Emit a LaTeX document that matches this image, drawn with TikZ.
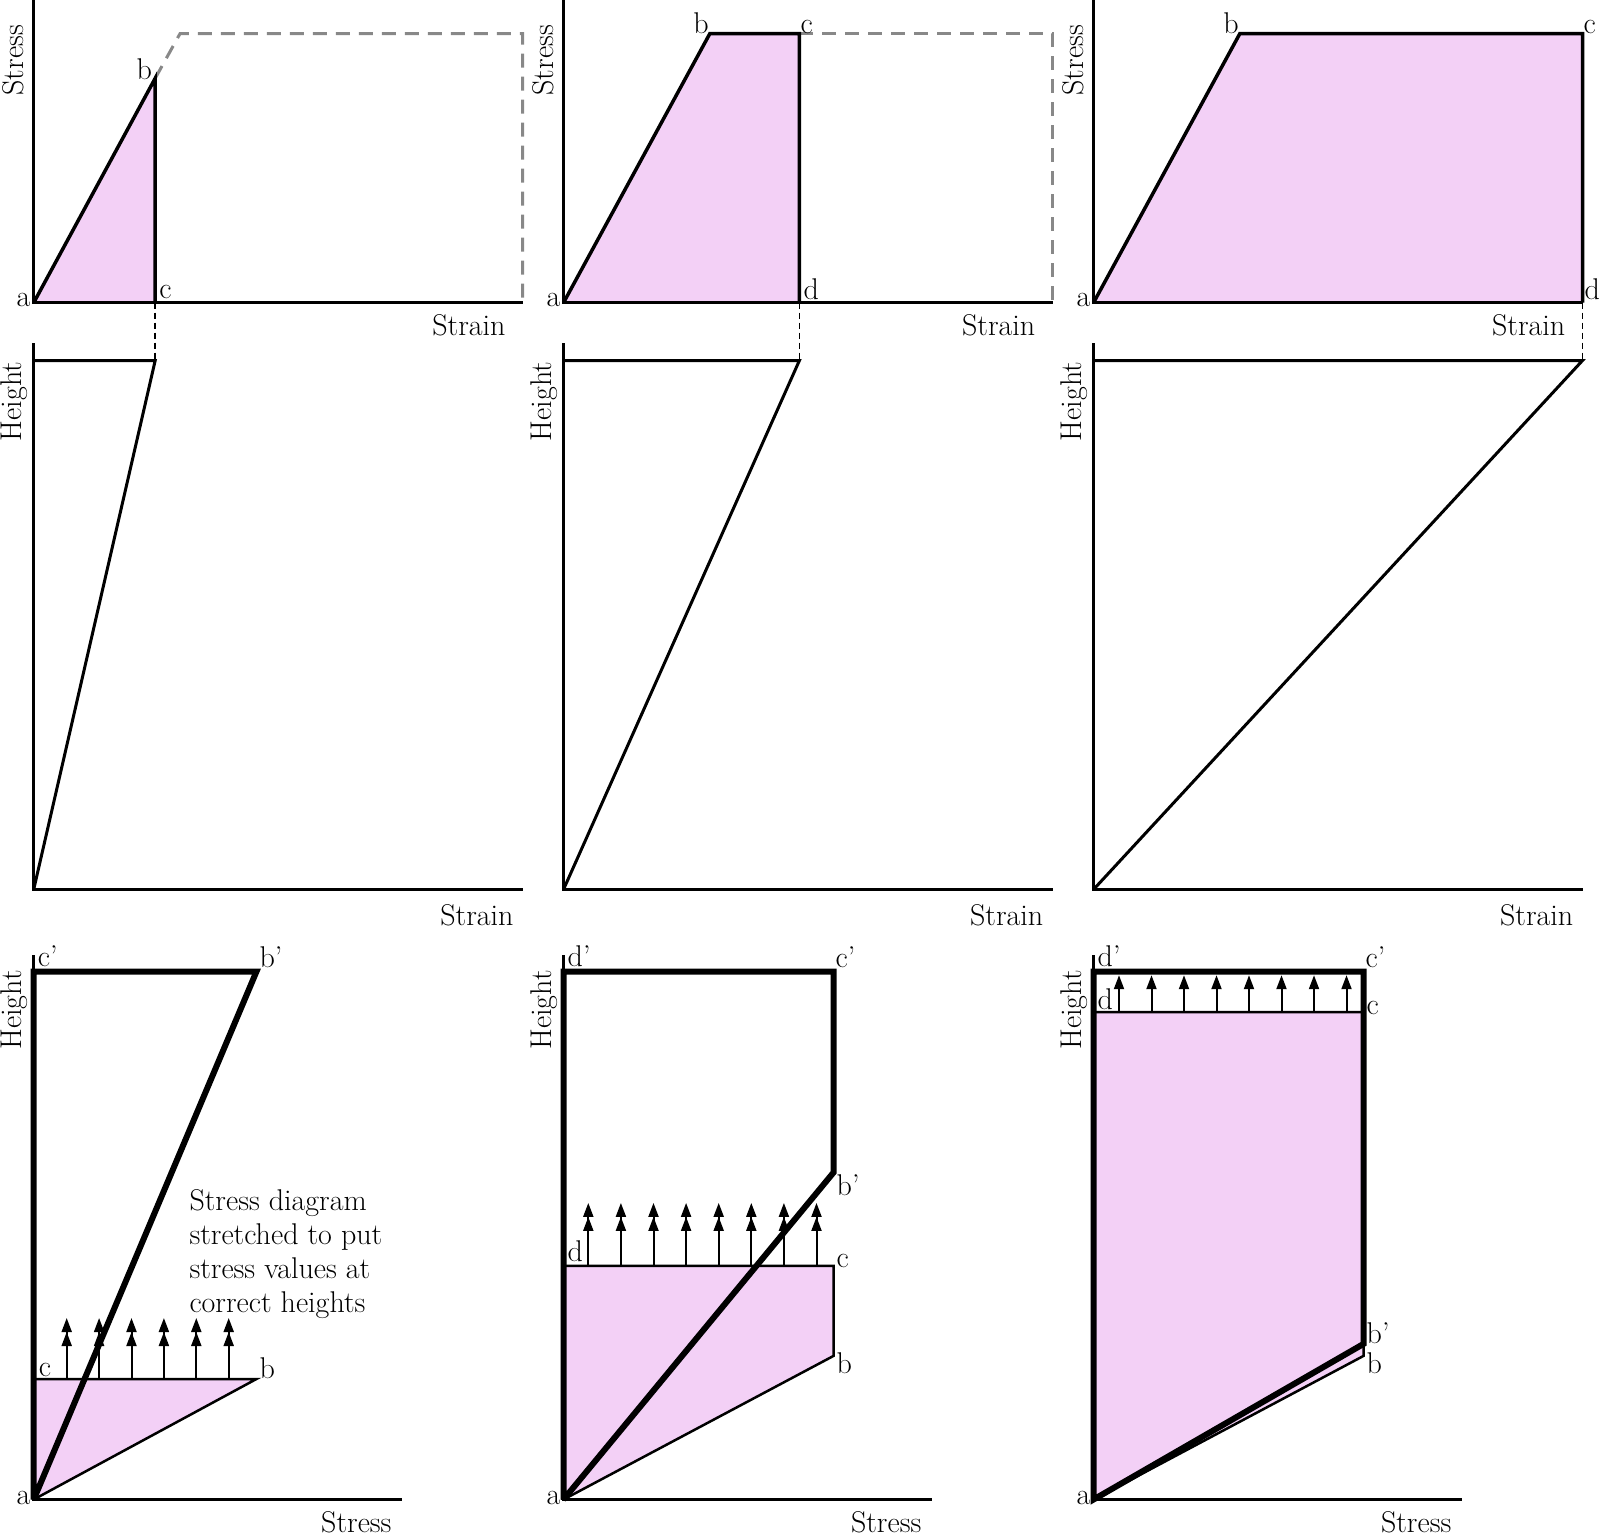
\documentclass[tikz,border=0pt]{standalone}
\usepackage{fontspec}
\usetikzlibrary{arrows.meta}
\definecolor{pinkfill}{RGB}{243,208,246}
\definecolor{dashgray}{RGB}{136,136,136}
\newcommand\lblfont{\fontsize{30}{33.9}\selectfont}
\begin{document}
\begin{tikzpicture}[x=1pt,y=-1pt,
  axis/.style={line width=3pt},
  curve/.style={line width=3.5pt, line join=miter},
  heavy/.style={line width=6pt, line join=miter, miter limit=2.5},
  thinline/.style={line width=2.5pt},
  yielddash/.style={dashgray, line width=3pt, dash pattern=on 14pt off 9pt},
  linkdash/.style={line width=1.5pt, dash pattern=on 6pt off 4pt},
  lbl/.style={inner sep=0pt, font=\lblfont},
  rotlbl/.style={inner sep=0pt, rotate=90, anchor=east, font=\lblfont},
  uparr/.style={line width=2pt, -{Triangle[length=14pt,width=10pt]}},
  dblarr/.style={line width=2pt, -{Triangle[length=14pt,width=10pt]Triangle[length=14pt,width=10pt]}},
]
\useasboundingbox (0,0) rectangle (1600,1535);

% ================= ROW 1 : stress-strain =================
% panel 1
\coordinate (Y11) at (33.7,0);
\coordinate (A11) at (33.7,302.7);
\coordinate (B11) at (155.2,78.3);
\coordinate (C11) at (155.2,302.7);
\coordinate (K11) at (180.1,33.5);
\coordinate (T11) at (522.7,33.5);
\coordinate (E11) at (522.7,302.7);
\fill[pinkfill] (A11)--(B11)--(C11)--cycle;
\draw[yielddash] (B11)--(K11)--(T11)--(E11);
\draw[curve] (A11)--(B11)--(C11);
\draw[axis] (Y11)--(A11)--(E11);
\node[lbl,anchor=mid east] (la11) at ([shift={(-3,1.5)}]A11) {a};
\node[lbl,anchor=base east] (lb11) at ([shift={(-3,1)}]B11) {b};
\node[lbl,anchor=base west] (lc11) at ([shift={(4,-4)}]C11) {c};
\node[lbl,anchor=base east] (ls11) at (505.7,335) {Strain};
\node[rotlbl] (ly11) at (13,25) {Stress};

% panel 2
\coordinate (Y12) at (563.5,0);
\coordinate (A12) at (563.5,302.7);
\coordinate (B12) at (709.9,33.5);
\coordinate (C12) at (799.4,33.5);
\coordinate (D12) at (799.4,302.7);
\coordinate (T12) at (1052.5,33.5);
\coordinate (E12) at (1052.5,302.7);
\fill[pinkfill] (A12)--(B12)--(C12)--(D12)--cycle;
\draw[yielddash] (C12)--(T12)--(E12);
\draw[curve] (A12)--(B12)--(C12)--(D12);
\draw[axis] (Y12)--(A12)--(E12);
\node[lbl,anchor=mid east] (la12) at ([shift={(-3,1.5)}]A12) {a};
\node[lbl,anchor=base east] (lb12) at ([shift={(-1,0)}]B12) {b};
\node[lbl,anchor=base west] (lc12) at ([shift={(1,0)}]C12) {c};
\node[lbl,anchor=base west] (ld12) at ([shift={(4,-3)}]D12) {d};
\node[lbl,anchor=base east] (ls12) at (1035.5,335) {Strain};
\node[rotlbl] (ly12) at (543,25) {Stress};

% panel 3
\coordinate (Y13) at (1093.5,0);
\coordinate (A13) at (1093.5,302.7);
\coordinate (B13) at (1239.9,33.5);
\coordinate (C13) at (1582.5,33.5);
\coordinate (D13) at (1582.5,302.7);
\fill[pinkfill] (A13)--(B13)--(C13)--(D13)--cycle;
\draw[curve] (A13)--(B13)--(C13)--(D13);
\draw[axis] (Y13)--(A13)--(D13);
\node[lbl,anchor=mid east] (la13) at ([shift={(-3,1.5)}]A13) {a};
\node[lbl,anchor=base east] (lb13) at ([shift={(-1,0)}]B13) {b};
\node[lbl,anchor=base west] (lc13) at ([shift={(1,0)}]C13) {c};
\node[lbl,anchor=base west] (ld13) at ([shift={(2,-3)}]D13) {d};
\node[lbl,anchor=base east] (ls13) at (1565.5,335) {Strain};
\node[rotlbl] (ly13) at (1073,25) {Stress};

% ================= ROW 2 : height-strain =================
\foreach \X/\e/\k in {33.7/121.5/1, 563.5/235.9/2, 1093.5/489/3}{
  \coordinate (Y2\k) at (\X,343);
  \coordinate (A2\k) at (\X,889.5);
  \coordinate (E2\k) at ({\X+489},889.5);
  \coordinate (L2\k) at (\X,360.5);
  \coordinate (R2\k) at ({\X+\e},360.5);
  \draw[axis] (Y2\k)--(A2\k)--(E2\k);
  \draw[axis,line join=miter] (L2\k)--(R2\k)--(A2\k);
  \node[lbl,anchor=base east] (ls2\k) at ({\X+480},925) {Strain};
  \node[rotlbl] (ly2\k) at ({\X-19.5},361.5) {Height};
}
\draw[linkdash] (C11)--(R21);
\draw[linkdash] (D12)--(R22);
\draw[linkdash] (D13)--(R23);

% ================= ROW 3 : height-stress =================
% panel 1
\coordinate (Y31) at (33.7,955);
\coordinate (A31) at (33.7,1499.5);
\coordinate (E31) at (401.7,1499.5);
\coordinate (Cp31) at (33.7,971.7);
\coordinate (Bp31) at (256.4,971.7);
\coordinate (C31) at (33.7,1379);
\coordinate (B31) at (256.4,1379);
\fill[pinkfill] (A31)--(C31)--(B31)--cycle;
\draw[thinline] (C31)--(B31)--(A31);
\foreach \i in {0,...,5}
  \draw[dblarr] ([xshift={33+32.4*\i}]C31) -- ++(0,-61);
\draw[axis] (Y31)--(A31)--(E31);
\draw[heavy] (A31)--(Cp31)--(Bp31)--cycle;
\node[lbl,anchor=mid east] (la31) at ([shift={(-3,3)}]A31) {a};
\node[lbl,anchor=base west] (lcp31) at ([shift={(4,-5)}]Cp31) {c’};
\node[lbl,anchor=base west] (lbp31) at ([shift={(3,-4)}]Bp31) {b’};
\node[lbl,anchor=base west] (lc31) at ([shift={(5,-3)}]C31) {c};
\node[lbl,anchor=base west] (lb31) at ([shift={(3,-1)}]B31) {b};
\node[lbl,anchor=base east] (ls31) at (391.7,1532) {Stress};
\node[rotlbl] (ly31) at (14.2,970) {Height};
\node[lbl,anchor=north west,align=left] (note31) at (189.3,1189.5)
  {Stress diagram\\stretched to put\\stress values at\\correct heights};

% panel 2
\coordinate (Y32) at (563.5,955);
\coordinate (A32) at (563.5,1499.5);
\coordinate (E32) at (931.5,1499.5);
\coordinate (Dp32) at (563.5,971.7);
\coordinate (Cp32) at (833.5,971.7);
\coordinate (Bp32) at (833.5,1172.5);
\coordinate (D32) at (563.5,1265.9);
\coordinate (C32) at (833.5,1265.9);
\coordinate (B32) at (833.5,1355.9);
\fill[pinkfill] (A32)--(D32)--(C32)--(B32)--cycle;
\draw[thinline] (D32)--(C32)--(B32)--(A32);
\foreach \i in {0,...,7}
  \draw[dblarr] ([xshift={24.8+32.6*\i}]D32) -- ++(0,-63);
\draw[axis] (Y32)--(A32)--(E32);
\draw[heavy] (A32)--(Dp32)--(Cp32)--(Bp32)--cycle;
\node[lbl,anchor=mid east] (la32) at ([shift={(-3,3)}]A32) {a};
\node[lbl,anchor=base west] (ldp32) at ([shift={(4,-5)}]Dp32) {d’};
\node[lbl,anchor=base west] (lcp32) at ([shift={(2,-4)}]Cp32) {c’};
\node[lbl,anchor=north west] (lbp32) at ([shift={(3,2)}]Bp32) {b’};
\node[lbl,anchor=base west] (ld32) at ([shift={(4,-4)}]D32) {d};
\node[lbl,anchor=base west] (lc32) at ([shift={(3,2)}]C32) {c};
\node[lbl,anchor=north west] (lb32) at ([shift={(3,-3)}]B32) {b};
\node[lbl,anchor=base east] (ls32) at (921.5,1532) {Stress};
\node[rotlbl] (ly32) at (544,970) {Height};

% panel 3
\coordinate (Y33) at (1093.5,955);
\coordinate (A33) at (1093.5,1499.5);
\coordinate (E33) at (1461.5,1499.5);
\coordinate (Dp33) at (1093.5,971.7);
\coordinate (Cp33) at (1363.5,971.7);
\coordinate (Bp33) at (1363.5,1343.9);
\coordinate (D33) at (1093.5,1012.2);
\coordinate (C33) at (1363.5,1012.2);
\coordinate (B33) at (1363.5,1355.9);
\fill[pinkfill] (A33)--(D33)--(C33)--(B33)--cycle;
\draw[thinline] (D33)--(C33)--(B33)--(A33);
\foreach \i in {0,...,7}
  \draw[uparr] ([xshift={25.5+32.5*\i}]D33) -- ++(0,-37);
\draw[axis] (Y33)--(A33)--(E33);
\draw[heavy] (A33)--(Dp33)--(Cp33)--(Bp33)--cycle;
\node[lbl,anchor=mid east] (la33) at ([shift={(-3,3)}]A33) {a};
\node[lbl,anchor=base west] (ldp33) at ([shift={(4,-5)}]Dp33) {d’};
\node[lbl,anchor=base west] (lcp33) at ([shift={(2,-4)}]Cp33) {c’};
\node[lbl,anchor=base west] (lbp33) at ([shift={(3,0)}]Bp33) {b’};
\node[lbl,anchor=base west] (ld33) at ([shift={(4,-3)}]D33) {d};
\node[lbl,anchor=base west] (lc33) at ([shift={(3,2)}]C33) {c};
\node[lbl,anchor=north west] (lb33) at ([shift={(3,-3)}]B33) {b};
\node[lbl,anchor=base east] (ls33) at (1451.5,1532) {Stress};
\node[rotlbl] (ly33) at (1074,970) {Height};
\end{tikzpicture}
\end{document}
